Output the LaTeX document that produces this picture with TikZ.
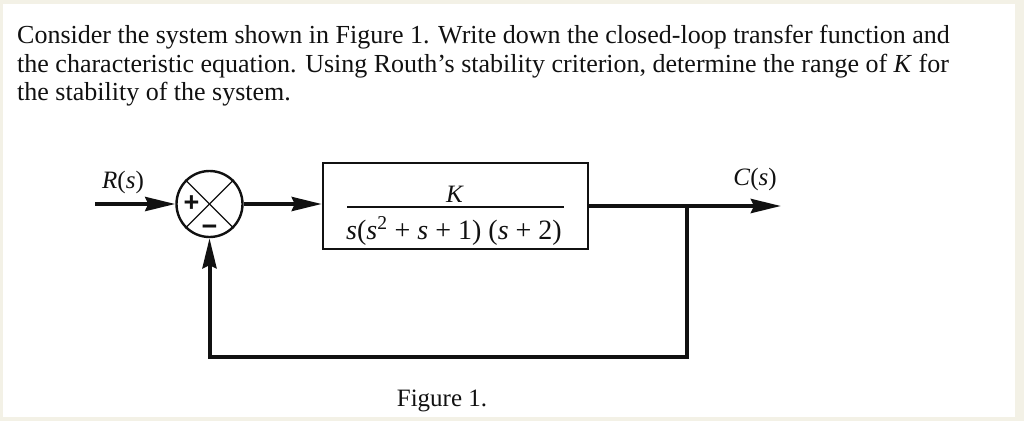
\documentclass[tikz,border=0pt]{standalone}
\usepackage{fontspec}
\setmainfont{Liberation Serif}
\newfontfamily\signfont{Liberation Sans}
\usetikzlibrary{arrows.meta,calc}
\definecolor{beige}{HTML}{F3F1E6}
\definecolor{ink}{HTML}{111111}
\tikzset{
  body/.style={anchor=base west, inner sep=0pt, font=\fontsize{26}{31}\selectfont, text=ink},
  lbl/.style={inner sep=0pt, font=\fontsize{25}{30}\selectfont, text=ink},
  sig/.style={draw=ink, line width=4pt, line join=miter},
  sigarrow/.style={sig, -{Stealth[length=30pt, width=14pt, inset=3pt]}},
  sumnode/.style={circle, draw=ink, line width=2.4pt, minimum size=66pt, inner sep=0pt},
  blockbox/.style={rectangle, draw=ink, line width=2.4pt, minimum width=265pt, minimum height=86pt, inner sep=0pt},
  sign/.style={inner sep=0pt, font=\signfont\bfseries\fontsize{27}{29}\selectfont, text=ink}
}
\begin{document}
\begin{tikzpicture}[x=1pt, y=-1pt]
  \useasboundingbox (0,0) rectangle (1024,421);
  \fill[beige] (0,0) rectangle (1024,421);
  \fill[white] (3,4) rectangle (1015,417);

  % question text
  \node[body] (l1) at (17,43) {Consider the system shown in Figure 1. Write down the closed-loop transfer function and};
  \node[body] (l2) at (17,72) {the characteristic equation. Using Routh’s stability criterion, determine the range of \textit{K} for};
  \node[body] (l3) at (17,100) {the stability of the system.};

  % blocks
  \node[sumnode] (sum) at (209.5,204) {};
  \draw[ink, line width=1.3pt] (sum.north west) -- (sum.south east);
  \draw[ink, line width=1.3pt] (sum.south west) -- (sum.north east);
  \node[sign] (plus) at (191.5,204) {+};
  \node[sign] (minus) at (209.5,230) {−};

  \node[blockbox] (blk) at (455.5,206) {};
  \node[lbl, anchor=base, font=\fontsize{25}{30}\selectfont] (num) at (455,202) {\textit{K}};
  \draw[ink, line width=1.5pt] (347,207) -- (564,207);
  \node[lbl, anchor=base, font=\fontsize{28}{32}\selectfont] (den) at (454,239) {\textit{s}(\textit{s}\textsuperscript{2} + \textit{s} + 1) (\textit{s} + 2)};

  % labels
  \node[lbl] (rlab) at (123,182) {\textit{R}(\textit{s})};
  \node[lbl] (clab) at (755,179) {\textit{C}(\textit{s})};

  % signals
  \coordinate (rin) at (95,204);
  \coordinate (cout) at (781,206);
  \coordinate (br) at (687,206);
  \coordinate (fb) at (687,357);

  \draw[sigarrow] (rin) -- (sum.west);
  \draw[sigarrow] (sum.east) -- (blk.west |- sum.east);
  \draw[sigarrow] (blk.east) -- (cout);
  \draw[sigarrow] (br) -- (fb) -| (sum.south);

  \node[anchor=base, inner sep=0pt, font=\fontsize{25}{30}\selectfont, text=ink] (cap) at (442,406) {Figure 1.};
\end{tikzpicture}
\end{document}
